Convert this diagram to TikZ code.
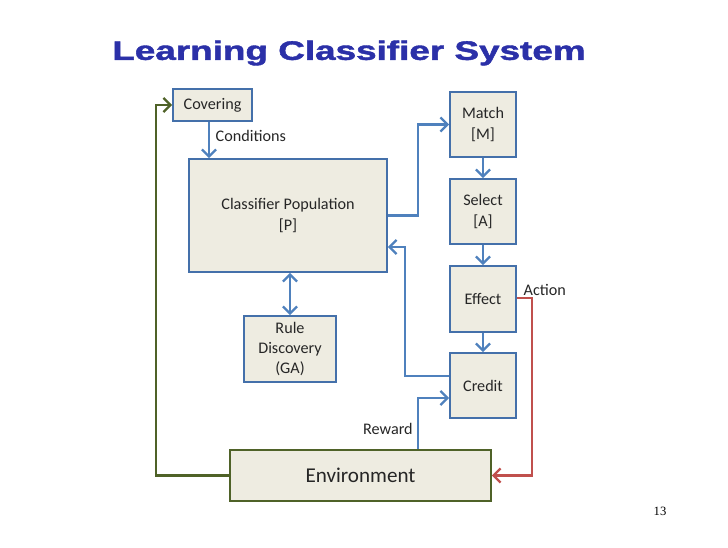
\documentclass[tikz,border=0pt]{standalone}
\usepackage{fontspec}
\setmainfont{Carlito}
\newfontfamily\titlefont[BoldFeatures={FakeBold=1.5}]{Liberation Sans}
\newfontfamily\pagefont{Liberation Serif}
\usetikzlibrary{positioning,arrows.meta,calc}
\definecolor{boxfill}{HTML}{EEECE1}
\definecolor{boxline}{HTML}{4470AA}
\definecolor{flow}{HTML}{4F81BD}
\definecolor{envline}{HTML}{4F6228}
\definecolor{act}{HTML}{C0504D}
\definecolor{ttl}{HTML}{2B30A8}
\definecolor{txt}{HTML}{262626}
\tikzset{
  box/.style={draw=boxline,fill=boxfill,line width=1.3pt,inner sep=2pt,align=center,
    font=\fontsize{11.5}{14.5}\selectfont,text=txt},
  stagebox/.style={box,minimum width=1.65cm,minimum height=1.625cm},
  envbox/.style={box,draw=envline,font=\fontsize{15}{18}\selectfont},
  note/.style={font=\fontsize{11.5}{14}\selectfont,text=txt,inner sep=2pt},
  barr/.style={-{Straight Barb[length=5pt,width=10pt]},line width=1.6pt,flow},
  dbarr/.style={barr,{Straight Barb[length=5pt,width=10pt]}-{Straight Barb[length=5pt,width=10pt]}},
  rarr/.style={barr,act},
  garr/.style={barr,envline},
}
\begin{document}
\begin{tikzpicture}[x=0.025cm,y=-0.025cm]
\useasboundingbox (0,0) rectangle (728,547);
\node[font=\titlefont\bfseries\fontsize{19}{22}\selectfont,text=ttl] (title) at (349,53) {\scalebox{1.38}[1]{Learning Classifier System}};
\node[font=\pagefont\fontsize{9}{10}\selectfont] (page) at (660,511) {13};
% boxes
\node[box,minimum width=1.975cm,minimum height=0.8cm] (cov) at (212.5,105) {Covering};
\node[box,minimum width=4.95cm,minimum height=2.825cm] (pop) at (288,215.5) {Classifier Population\\{[P]}};
\node[stagebox] (match) at (483,124.5) {Match\\{[M]}};
\node[stagebox] (sel) at (483,211.5) {Select\\{[A]}};
\node[stagebox,minimum height=1.65cm] (eff) at (483,299) {Effect};
\node[stagebox] (cred) at (483,385.5) {Credit};
\node[box,minimum width=2.3cm,minimum height=1.65cm] (rule) at (290,349) {Rule\\Discovery\\(GA)};
\node[envbox,minimum width=6.525cm,minimum height=1.275cm] (env) at (360.5,475.5) {Environment};
% connectors
\draw[barr] ([xshift=-2.5pt]cov.south) -- ([xshift=-2.5pt]cov.south |- pop.north) node[note,right,midway,xshift=2pt,yshift=3pt]{Conditions};
\draw[barr] (pop.east) -- ++(30,0) |- (match.west);
\draw[barr] (match) -- (sel);
\draw[barr] (sel) -- (eff);
\draw[barr] (eff) -- (cred);
\draw[dbarr] (rule.north) -- (rule.north |- pop.south);
\draw[barr] ([yshift=6.8pt]cred.west) -- ++(-44,0) |- ([yshift=-22.4pt]pop.east);
\draw[barr] ([xshift=40.9pt]env.north) |- ([yshift=-8.9pt]cred.west) node[note,left,pos=0.2,xshift=-1pt]{Reward};
\draw[rarr] ([yshift=0.7pt]eff.east) -- ++(15,0) node[note,above right,pos=0,xshift=2pt,yshift=-1pt]{Action} |- (env.east);
\draw[garr] (env.west) -- ++(-73,0) |- (cov.west);
\end{tikzpicture}
\end{document}
